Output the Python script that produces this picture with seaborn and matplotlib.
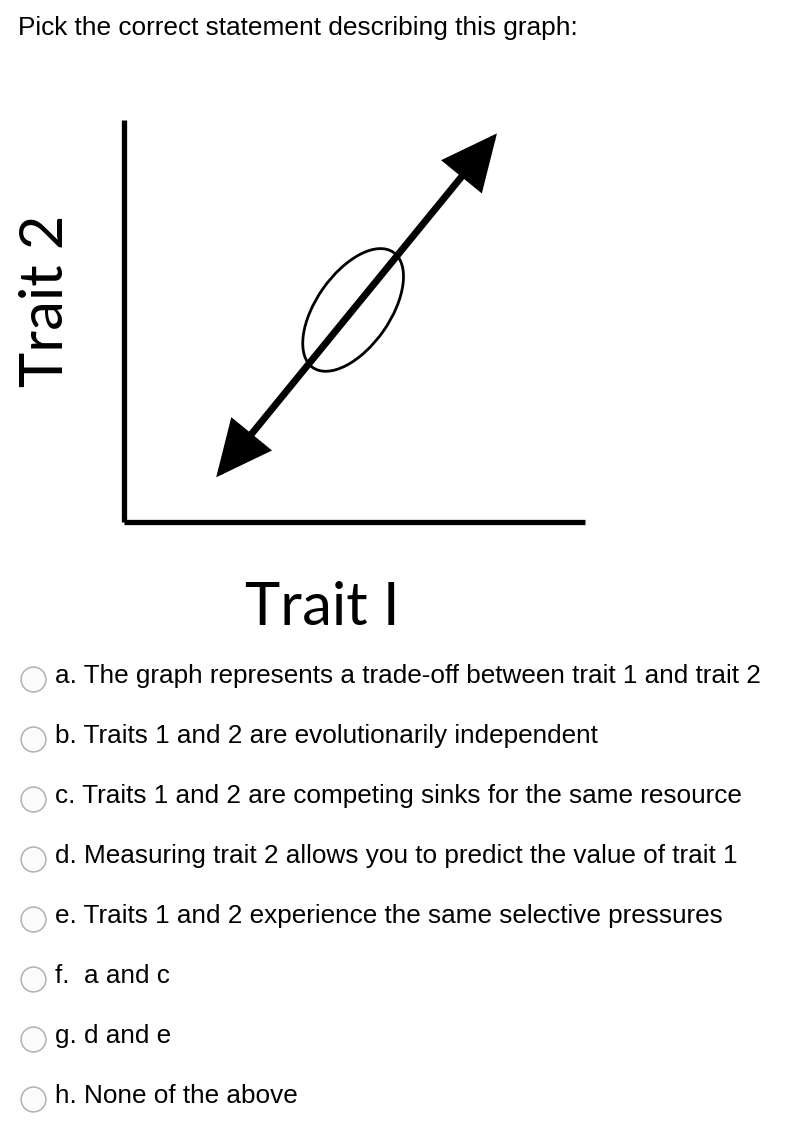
import numpy as np
import matplotlib
matplotlib.use('Agg')
import matplotlib.pyplot as plt
from matplotlib.patches import Ellipse, FancyArrowPatch
import seaborn as sns
import pandas as pd

# 题目与选项
question = 'Pick the correct statement describing this graph:'
options = [
    'a. The graph represents a trade-off between trait 1 and trait 2',
    'b. Traits 1 and 2 are evolutionarily independent',
    'c. Traits 1 and 2 are competing sinks for the same resource',
    'd. Measuring trait 2 allows you to predict the value of trait 1',
    'e. Traits 1 and 2 experience the same selective pressures',
    'f.  a and c',
    'g. d and e',
    'h. None of the above',
]
x_label = 'Trait I'
y_label = 'Trait 2'

# 示意图数据 (任意单位)
trait1 = [2.0, 8.09]
trait2 = [0.97, 8.43]
cloud_center = (4.97, 4.60)
cloud_size = (3.05, 1.6)
cloud_angle = 55

W, H = 792, 1144
sns.set_style('white')
plt.rcParams['font.family'] = ['Liberation Sans', 'DejaVu Sans']
plt.rcParams['text.color'] = 'black'

fig = plt.figure(figsize=(W / 100, H / 100), dpi=100)


def fx(px):
    return px / W


def fy(py):
    return 1 - py / H


# 主图
ax = fig.add_axes([fx(124), fy(522), fx(585) - fx(124), fy(120) - fy(522)])
ax.set_xlim(0, 10)
ax.set_ylim(0, 10 * 402 / 461)
ax.set_xticks([])
ax.set_yticks([])
sns.despine(ax=ax)
for s in ['left', 'bottom']:
    ax.spines[s].set_linewidth(3.8)
    ax.spines[s].set_color('black')
    ax.spines[s].set_capstyle('butt')

arrow = FancyArrowPatch((trait1[0], trait2[0]), (trait1[1], trait2[1]),
                        arrowstyle='<|-|>,head_length=32,head_width=15',
                        mutation_scale=1, lw=5.0, color='black',
                        shrinkA=0, shrinkB=0, joinstyle='miter')
ax.add_patch(arrow)
ax.add_patch(Ellipse(cloud_center, cloud_size[0], cloud_size[1], angle=cloud_angle,
                     fill=False, lw=2.0, ec='black'))

# 轴标题 (Gill Sans 风格)
fig.text(fx(322), fy(625), x_label, family=['Lato', 'DejaVu Sans'], fontsize=43,
         ha='center', va='baseline', color='black')
fig.text(fx(63), fy(301), y_label, family=['Lato', 'DejaVu Sans'], fontsize=43,
         ha='center', va='baseline', rotation=90, rotation_mode='anchor', color='black')

# 题目文字
fig.text(fx(18), fy(35), question, fontsize=18.9, ha='left', va='baseline', color='black')

# 单选按钮与选项
over = fig.add_axes([0, 0, 1, 1], facecolor='none')
opt_df = pd.DataFrame({'x': 32.5, 'y': [679 + 60 * i for i in range(len(options))]})
sns.scatterplot(data=opt_df, x='x', y='y', s=320, color='#fbfbfb',
                edgecolor='#b0b0b0', linewidth=1.1, ax=over, legend=False)
over.set_xlim(0, W)
over.set_ylim(H, 0)
over.axis('off')
for i, txt in enumerate(options):
    fig.text(fx(55), fy(683 + 60 * i), txt, fontsize=18.8, ha='left', va='baseline',
             color='black')

fig.savefig('out.png', dpi=100)
